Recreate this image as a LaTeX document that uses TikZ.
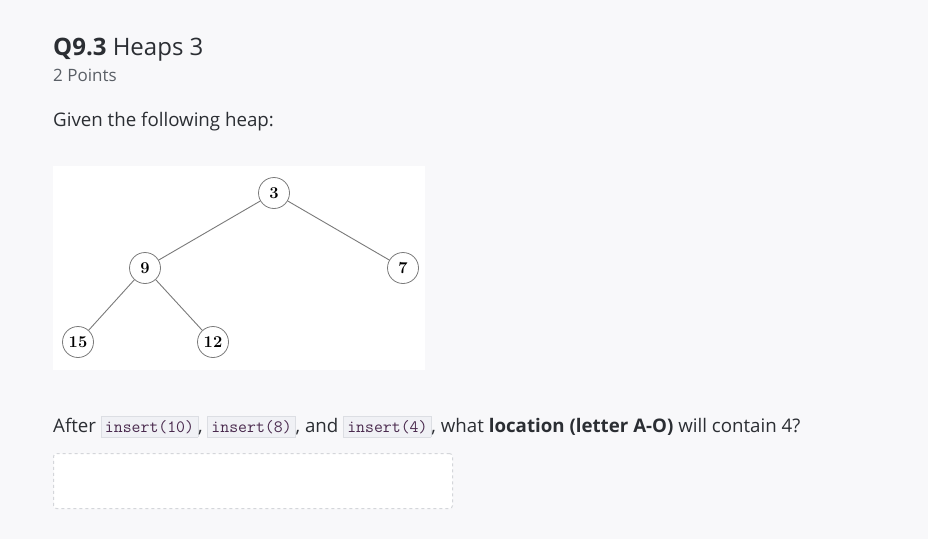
\documentclass[tikz,border=0pt]{standalone}
\usepackage{fontspec}
\setmainfont{Open Sans}
\setmonofont{Latin Modern Mono}
\usepackage{tikz}
\usetikzlibrary{positioning}

\definecolor{pagebg}{HTML}{F8F8FA}
\definecolor{inktext}{HTML}{2B2E33}
\definecolor{subgray}{HTML}{5A5F66}
\definecolor{edgegray}{HTML}{7A7A7A}
\definecolor{codebg}{HTML}{F0F1F5}
\definecolor{codeframe}{HTML}{DCDEE3}
\definecolor{codeink}{HTML}{4A2A4E}
\definecolor{dashgray}{HTML}{D4D6DA}

% inline code chip
\newcommand{\codechip}[1]{{\setlength{\fboxsep}{3.5pt}\setlength{\fboxrule}{0.5pt}%
  \fcolorbox{codeframe}{codebg}{\color{codeink}\fontsize{17.3}{17.3}\ttfamily\vphantom{(}#1}}}

\begin{document}
\begin{tikzpicture}[
    x=1pt, y=-1pt,
    % heap vertex
    heapnode/.style={circle, draw=edgegray, fill=white, line width=0.8pt,
        minimum size=31pt, inner sep=0pt, font=\fontspec{Latin Modern Roman}\bfseries\fontsize{16.5}{16.5}\selectfont},
    heapedge/.style={draw=edgegray, line width=0.9pt},
    prose/.style={anchor=base west, inner sep=0pt, text=inktext}
]

% --- page ---
\fill[pagebg] (0,0) rectangle (928,539);
\useasboundingbox (0,0) rectangle (928,539);

% --- heading ---
\node[prose, font=\fontsize{24}{24}\selectfont] (title) at (53,55)
    {\textbf{Q9.3} Heaps 3};
\node[prose, text=subgray, font=\fontsize{17}{17}\selectfont] (points) at (53,81)
    {2 Points};
\node[prose, font=\fontsize{18.7}{18.7}\selectfont] (given) at (53,126)
    {Given the following heap:};

% --- heap picture ---
\fill[white] (53,166) rectangle (425,370);
\node[heapnode] (n3)  at (274,193) {3};
\node[heapnode] (n9)  at (145,268) {9};
\node[heapnode] (n7)  at (403,268) {7};
\node[heapnode] (n15) at (78,342)  {15};
\node[heapnode] (n12) at (213,342) {12};
\draw[heapedge] (n3) -- (n9);
\draw[heapedge] (n3) -- (n7);
\draw[heapedge] (n9) -- (n15);
\draw[heapedge] (n9) -- (n12);

% --- question ---
\node[prose, font=\fontsize{18.7}{18.7}\selectfont] (question) at (53,432)
    {After \codechip{insert(10)}, \codechip{insert(8)}, and \codechip{insert(4)}, what
     \textbf{location (letter A-O)} will contain 4?};

% --- answer field ---
\node[draw=dashgray, dashed, line width=1pt, fill=white, rounded corners=3pt,
    minimum width=399pt, minimum height=55pt, anchor=north west] (answer) at (53,453) {};

\end{tikzpicture}
\end{document}
